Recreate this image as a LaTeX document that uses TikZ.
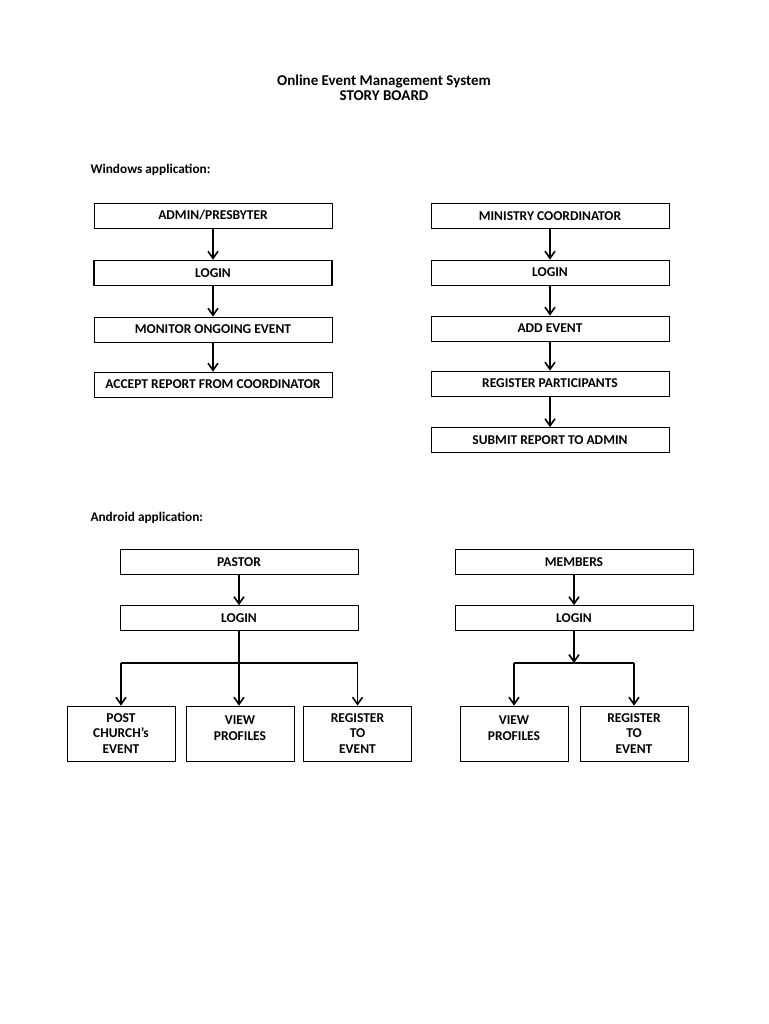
\documentclass[tikz,border=0pt]{standalone}
\usepackage{fontspec}
\setmainfont{Carlito}
\usetikzlibrary{arrows.meta}
\begin{document}
\begin{tikzpicture}
    [x=1pt,y=-1pt,
     box/.style={draw,line width=0.8pt,minimum width=238pt,minimum height=25pt,inner sep=0pt,font=\fontsize{13.5}{15}\selectfont\bfseries},
     small/.style={box,minimum width=108pt,minimum height=55pt,align=center,font=\fontsize{13.5}{15.5}\selectfont\bfseries},
     flow/.style={line width=1.6pt,-{Straight Barb[length=7pt,width=10pt]}},
     plain/.style={font=\fontsize{13.3}{15}\selectfont\bfseries}]
    \useasboundingbox (0,0) rectangle (768,1024);
    \node[plain,font=\fontsize{15}{15.5}\selectfont\bfseries,align=center] (title) at (384,88) {Online Event Management System\\STORY BOARD};
    \node[plain,anchor=west] (win) at (87,170) {Windows application:};
    \node[plain,anchor=west] (and) at (87,518) {Android application:};
    % windows, left column
    \node[box] (admin) at (213,215.5) {ADMIN/PRESBYTER};
    \node[box,line width=1.6pt] (alogin) at (213,273) {LOGIN};
    \node[box] (monitor) at (213,329.5) {MONITOR ONGOING EVENT};
    \node[box] (accept) at (213,384.5) {ACCEPT REPORT FROM COORDINATOR};
    \draw[flow] (admin) -- (alogin);
    \draw[flow] (alogin) -- (monitor);
    \draw[flow] (monitor) -- (accept);
    % windows, right column
    \node[box] (ministry) at (550,216) {MINISTRY COORDINATOR};
    \node[box] (mlogin) at (550,272.5) {LOGIN};
    \node[box] (add) at (550,328.5) {ADD EVENT};
    \node[box] (regp) at (550,383.5) {REGISTER PARTICIPANTS};
    \node[box] (submit) at (550,440) {SUBMIT REPORT TO ADMIN};
    \draw[flow] (ministry) -- (mlogin);
    \draw[flow] (mlogin) -- (add);
    \draw[flow] (add) -- (regp);
    \draw[flow] (regp) -- (submit);
    % android, pastor
    \node[box] (pastor) at (239,562) {PASTOR};
    \node[box] (plogin) at (239,618) {LOGIN};
    \node[small] (ppost) at (121,733.5) {POST\\CHURCH's\\EVENT};
    \node[small,text depth=11pt] (pview) at (240,733.5) {VIEW\\PROFILES};
    \node[small] (preg) at (357.5,733.5) {REGISTER\\TO\\EVENT};
    \coordinate (pl) at (121,663);
    \coordinate (pr) at (357.5,663);
    \draw[flow] (pastor) -- (plogin);
    \draw[line width=1.6pt] (pl) -- (pr);
    \draw[flow] (plogin.south) -- (plogin.south |- pview.north);
    \draw[flow] (pl) -- (ppost);
    \draw[flow] (pr) -- (preg);
    % android, members
    \node[box] (members) at (574,562) {MEMBERS};
    \node[box] (mblogin) at (574,618) {LOGIN};
    \node[small,text depth=11pt] (mview) at (514,733.5) {VIEW\\PROFILES};
    \node[small] (mreg) at (634,733.5) {REGISTER\\TO\\EVENT};
    \coordinate (mj) at (574,663);
    \coordinate (ml) at (514,663);
    \coordinate (mr) at (634,663);
    \draw[flow] (members) -- (mblogin);
    \draw[flow] (mblogin) -- (mj);
    \draw[line width=1.6pt] (ml) -- (mr);
    \draw[flow] (ml) -- (mview);
    \draw[flow] (mr) -- (mreg);
\end{tikzpicture}
\end{document}
